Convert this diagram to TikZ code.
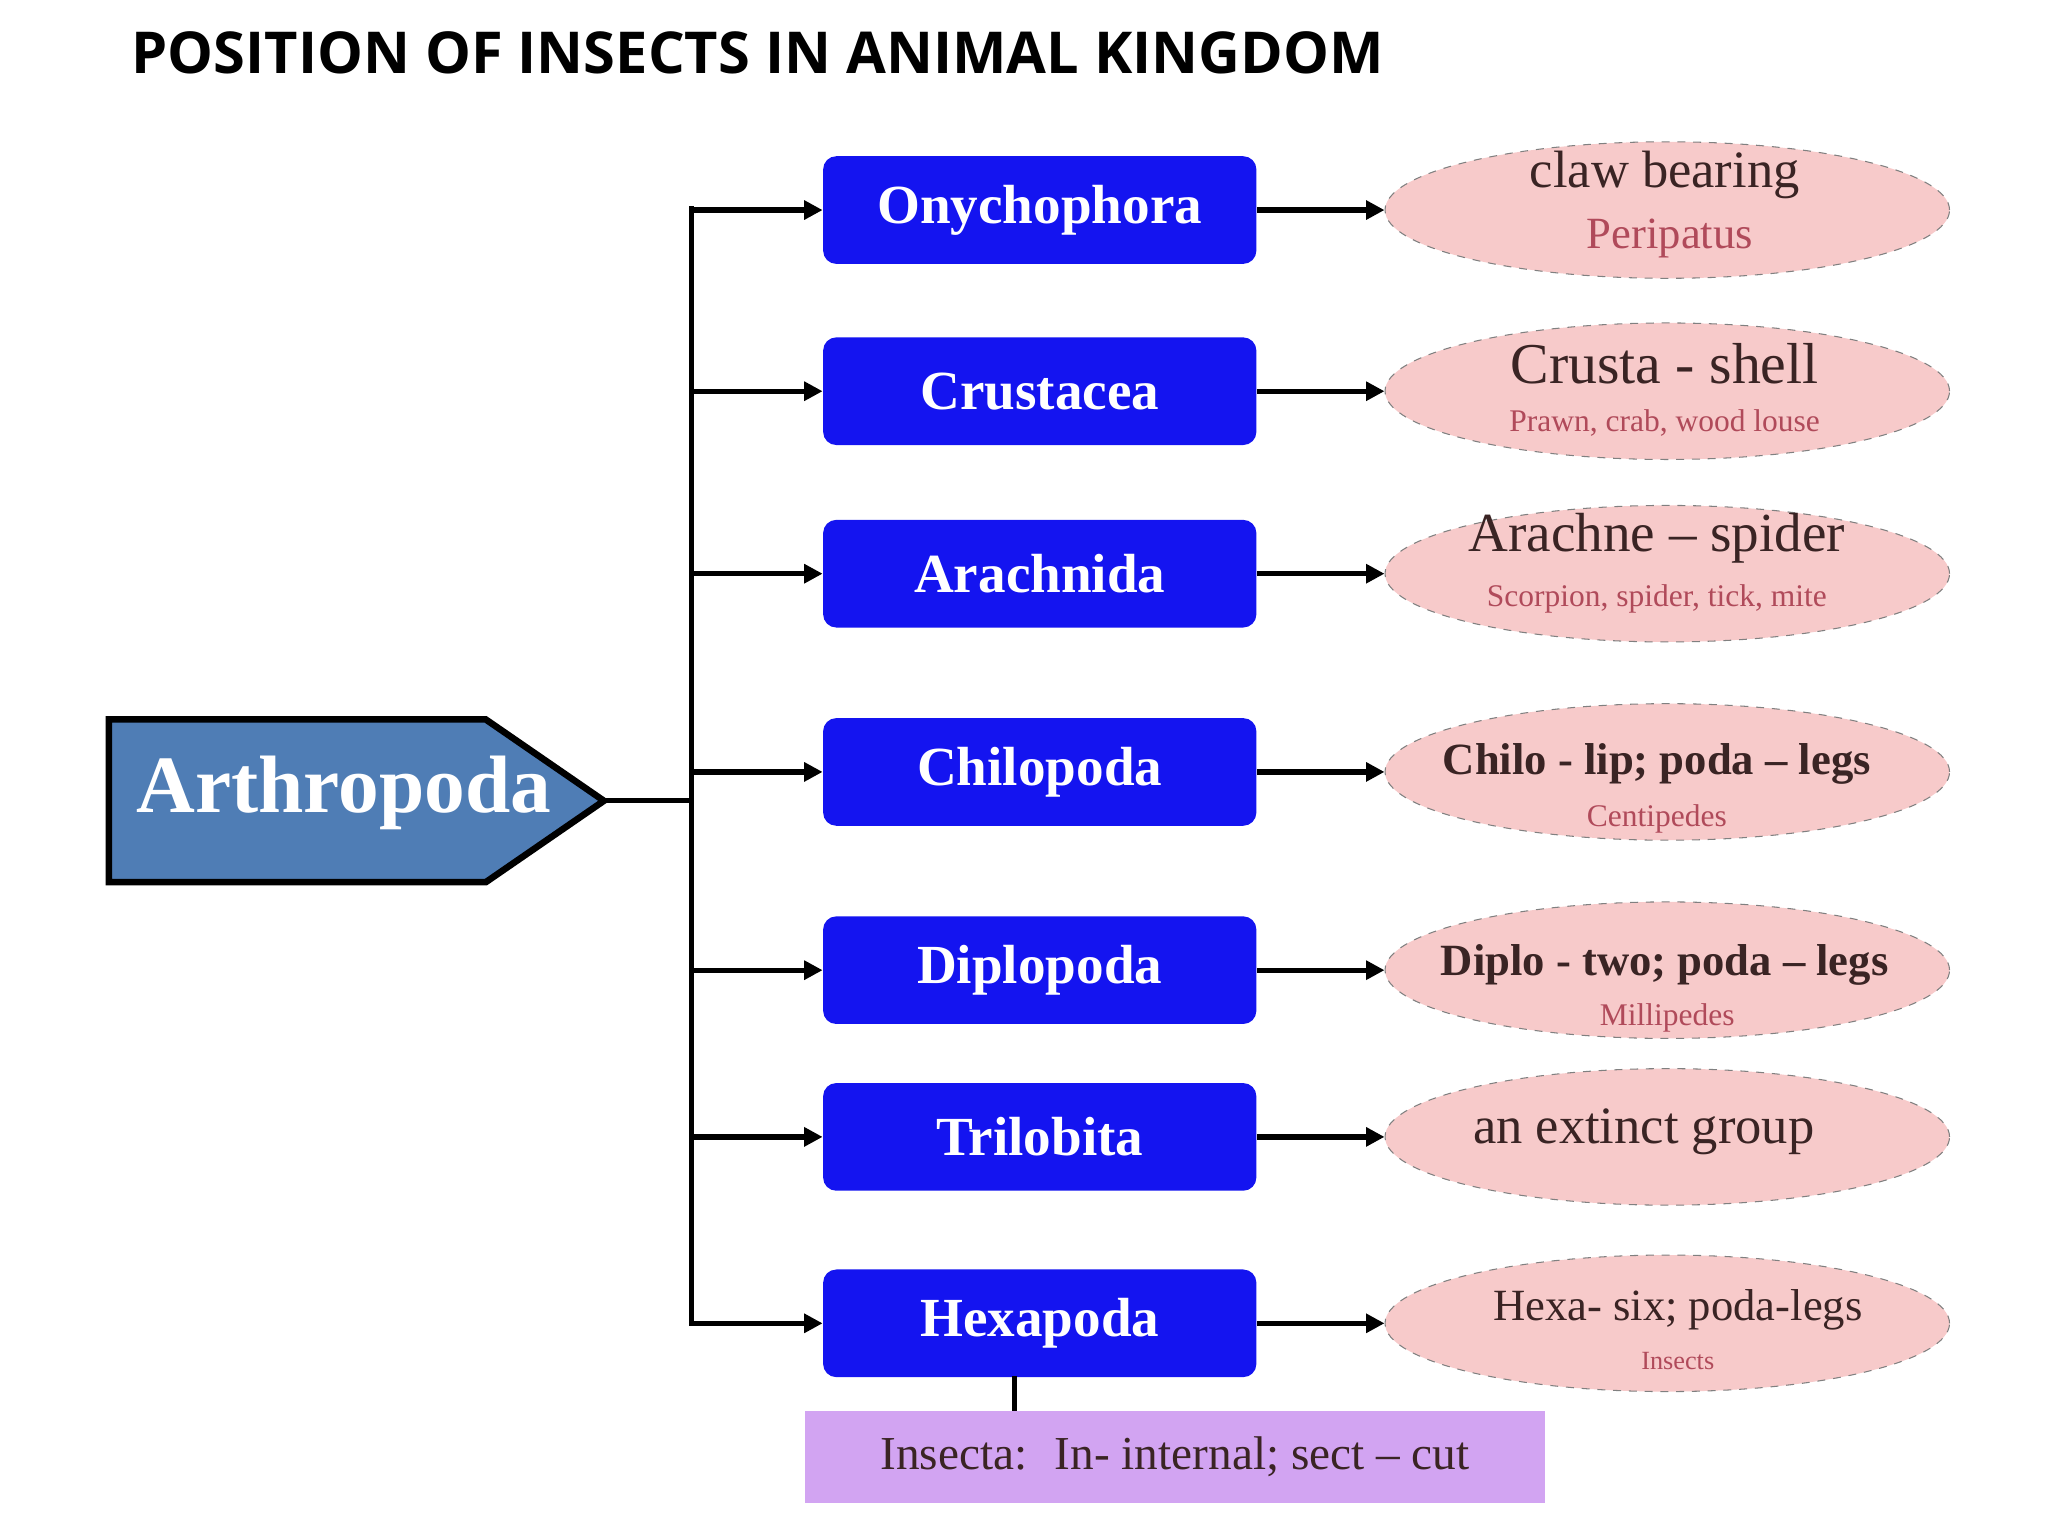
\documentclass[tikz,border=0pt]{standalone}
\usepackage{fontspec}
\setmainfont{Liberation Serif}
\newfontfamily\titlefont{Open Sans}
\usetikzlibrary{shapes.geometric,arrows.meta}
\definecolor{arth}{HTML}{4F7DB5}
\definecolor{boxblue}{HTML}{1414F0}
\definecolor{pinkfill}{HTML}{F7CACA}
\definecolor{maintxt}{HTML}{3A2424}
\definecolor{subtxt}{HTML}{B04A5A}
\definecolor{lilac}{HTML}{D2A4F2}
\begin{document}
\begin{tikzpicture}[x=0.5pt,y=-0.5pt,
  taxbox/.style={draw=none,fill=boxblue,rounded corners=5pt,minimum width=165pt,minimum height=41pt,text=white,font=\fontsize{21}{23}\selectfont\bfseries},
  oval/.style={ellipse,draw=gray,dashed,fill=pinkfill,minimum width=215pt,minimum height=52pt,inner sep=0pt,align=center},
  conn/.style={line width=2pt,-{Triangle[length=7pt,width=7pt]}},
  ln/.style={line width=2pt}]
\useasboundingbox (0,0) rectangle (1560,1170);
\node[anchor=west,font=\titlefont\fontsize{22}{25}\selectfont\bfseries] (title) at (93,40) {POSITION OF INSECTS IN ANIMAL KINGDOM};
\draw[fill=arth,line width=2.5pt] (83,548) -- (370,548) -- (460,610) -- (370,672) -- (83,672) -- cycle;
\node[text=white,font=\fontsize{31}{33}\selectfont\bfseries] (arth) at (262,604) {Arthropoda};
\coordinate (tip) at (460,610);
\coordinate (tj) at (527,610);
\draw[ln] (tip) -- (tj);
\coordinate (ttop) at (527,157);
\coordinate (tbot) at (527,1010);
\draw[ln] (ttop) -- (tbot);
\foreach \n/\t/\y in {a/Onychophora/160, b/Crustacea/298, c/Arachnida/437, d/Chilopoda/588, e/Diplopoda/739, f/Trilobita/866, g/Hexapoda/1008}{
  \node[taxbox] (\n) at (792,\y) {\t};
  \coordinate (t\n) at (527,\y);
  \draw[conn] (t\n) -- (\n.west);
  \node[oval] (o\n) at (1270,\y) {};
  \draw[conn] (\n.east) -- (o\n.west);
}
\node[text=maintxt,font=\fontsize{20}{22}\selectfont] at (1268,133) {claw bearing};
\node[text=subtxt,font=\fontsize{17}{19}\selectfont] at (1272,182) {Peripatus};
\node[text=maintxt,font=\fontsize{22}{24}\selectfont] at (1268,277) {Crusta - shell};
\node[text=subtxt,font=\fontsize{12}{14}\selectfont] at (1268,322) {Prawn, crab, wood louse};
\node[text=maintxt,font=\fontsize{21}{23}\selectfont] at (1262,410) {Arachne -- spider};
\node[text=subtxt,font=\fontsize{12}{14}\selectfont] at (1262,456) {Scorpion, spider, tick, mite};
\node[text=maintxt,font=\fontsize{17}{19}\selectfont\bfseries] at (1262,582) {Chilo - lip; poda -- legs};
\node[text=subtxt,font=\fontsize{12}{14}\selectfont] at (1262,624) {Centipedes};
\node[text=maintxt,font=\fontsize{17}{19}\selectfont\bfseries] at (1268,735) {Diplo - two; poda -- legs};
\node[text=subtxt,font=\fontsize{12}{14}\selectfont] at (1270,775) {Millipedes};
\node[text=maintxt,font=\fontsize{20}{22}\selectfont] at (1252,862) {an extinct group};
\node[text=maintxt,font=\fontsize{17}{19}\selectfont] at (1278,998) {Hexa- six; poda-legs};
\node[text=subtxt,font=\fontsize{10}{12}\selectfont] at (1278,1037) {Insects};
\coordinate (hb) at (773,1048);
\draw[ln] (hb) -- (773,1092);
\node[fill=lilac,minimum width=282pt,minimum height=35pt,text=maintxt,font=\fontsize{18}{20}\selectfont] (ins) at (895,1110) {Insecta: \ In- internal; sect -- cut};
\end{tikzpicture}
\end{document}
